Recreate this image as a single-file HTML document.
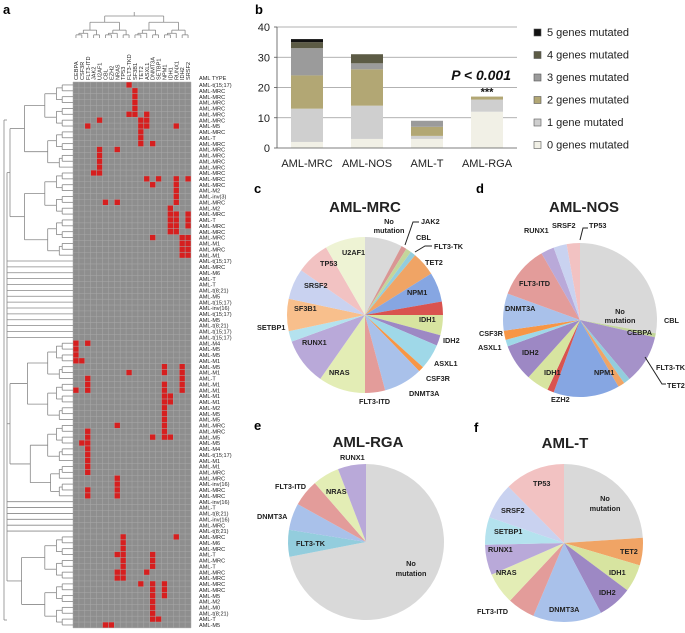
<!DOCTYPE html>
<html><head><meta charset="utf-8">
<style>
html,body{margin:0;padding:0;background:#fff;}
svg{display:block;font-family:"Liberation Sans",sans-serif;}
</style></head>
<body>
<svg id="fig" width="685" height="633" viewBox="0 0 685 633">
  <text x="3" y="14" font-size="13" font-weight="bold">a</text>
  <text x="255" y="14" font-size="13" font-weight="bold">b</text>
  <text x="254" y="193" font-size="13" font-weight="bold">c</text>
  <text x="476" y="193" font-size="13" font-weight="bold">d</text>
  <text x="254" y="430" font-size="13" font-weight="bold">e</text>
  <text x="474" y="432" font-size="13" font-weight="bold">f</text>
  <g id="heat"></g>
  <g id="dendro"></g>
  <g id="bars"></g>
  <g id="pies"></g>
</svg>
<script>
const NS='http://www.w3.org/2000/svg';
// ---------- Heatmap data ----------
const genes=['CEBPA','CSF3R','FLT3-ITD','JAK2','U2AF1','CBL','EZH2','NRAS','TP53','FLT3-TKD','SF3B1','TET2','ASXL1','DNMT3A','SETBP1','NPM1','IDH1','RUNX1','IDH2','SRSF2'];
const rowTypes=['t(15;17)','MRC','MRC','MRC','MRC','MRC','MRC','M5','MRC','T','MRC','MRC','MRC','MRC','MRC','MRC','MRC','MRC','M2','inv(3)','MRC','M2','MRC','T','MRC','MRC','MRC','M1','MRC','M1','t(15;17)','MRC','M6','T','T','t(8;21)','M5','t(15;17)','inv(16)','t(15;17)','M5','t(8;21)','t(15;17)','t(15;17)','M4','M5','M5','M1','M5','M1','T','M1','M1','M1','M1','M2','M5','M5','MRC','MRC','M5','M5','M4','t(15;17)','M1','M1','MRC','MRC','inv(16)','MRC','MRC','inv(16)','T','t(8;21)','inv(16)','MRC','t(8;21)','MRC','M6','MRC','T','MRC','T','MRC','MRC','MRC','MRC','M5','M2','M0','t(8;21)','T','M5'];
const rowMut=[[9],[10],[10],[10],[10],[9,10,12],[4,11,12],[2,11,12,17],[11],[11],[11,13],[4,7],[4],[4],[4],[3,4],[12,14,17,19],[13,17],[17],[17],[5,7,17],[16],[16,17,19],[16,17,19],[16,17,19],[16,17],[13,18,19],[18,19],[18,19],[18,19],
[],[],[],[],[],[],[],[],[],[],[],[],[],[],
[0,2],[0],[0],[0,1],[15,18],[9,15,18],[2,18],[2,15,18],[0,2,15,18],[15,16],[15,16],[15],[15],[15],[7,15],[2,15],[2,13,15,16],[1,2],
[2],[2],[2],[2],[2],[7],[7],[2,7],[2,7],
[],[],[],[],[],[],
[8,17],[8],[8],[7,8,13],[8,13],[8,13],[7,8,12],[7,8],[11,13,15],[13,15],[13,15],[13],[13],[13],[13,14],[5,6]];
const hx0=73,hy0=82,cw=5.9,rh=5.87;
function mk(tag,attrs,parent){const e=document.createElementNS(NS,tag);for(const k in attrs)e.setAttribute(k,attrs[k]);parent.appendChild(e);return e;}
const heat=document.getElementById('heat');
const bg=mk('rect',{x:hx0,y:hy0,width:cw*genes.length,height:rh*rowTypes.length,fill:'#8e8e8e'},heat);


rowMut.forEach((muts,r)=>{muts.forEach(c=>{
  const cell=mk('rect',{x:hx0+c*cw,y:hy0+r*rh,width:cw,height:rh,fill:'#d61f1f'},heat);
  
  
});});
for(let c=0;c<=genes.length;c++){mk('line',{x1:hx0+c*cw,x2:hx0+c*cw,y1:hy0,y2:hy0+rh*rowTypes.length,stroke:'#a9a9a9','stroke-width':0.5},heat);}
for(let r=0;r<=rowTypes.length;r++){mk('line',{x1:hx0,x2:hx0+cw*genes.length,y1:hy0+r*rh,y2:hy0+r*rh,stroke:'#a9a9a9','stroke-width':0.5},heat);}
genes.forEach((g,c)=>{
  const t=mk('text',{x:0,y:0,'font-size':5.6,fill:'#222',transform:`translate(${hx0+c*cw+cw/2+2},80) rotate(-90)`},heat);
  t.textContent=g;
  
  
});
const ht=mk('text',{x:199,y:80,'font-size':5.6,fill:'#222'},heat);ht.textContent='AML TYPE';


rowTypes.forEach((t,r)=>{
  const e=mk('text',{x:199,y:hy0+r*rh+rh-0.8,'font-size':5.6,fill:'#222'},heat);
  e.textContent='AML-'+t;
  
  
});
// ---------- Dendrograms ----------
const dg=document.getElementById('dendro');
function ln(x1,y1,x2,y2,col){mk('line',{x1,y1,x2,y2,stroke:col||'#888','stroke-width':0.8},dg);}
function tree(a,b,xmin,xmax){
  if(a===b){return {y:hy0+a*rh+rh/2,x:hx0};}
  const m=Math.floor((a+b)/2);
  const depth=Math.min(1,(b-a+1)/20);
  const x=xmax-(xmax-xmin)*depth;
  const L=tree(a,m,xmin,xmax),R=tree(m+1,b,xmin,xmax);
  ln(x,L.y,L.x,L.y);ln(x,R.y,R.x,R.y);ln(x,L.y,x,R.y);
  return {y:(L.y+R.y)/2,x};
}
const groups=[[0,29,'t'],[30,43,'f'],[44,70,'t'],[71,76,'f'],[77,92,'t']];
const roots=[];
groups.forEach(g=>{
  if(g[2]==='t'){const n=tree(g[0],g[1],10,68);ln(7,n.y,n.x,n.y);roots.push(n.y);}
  else{for(let r=g[0];r<=g[1];r++){const y=hy0+r*rh+rh/2;ln(7,y,hx0,y);roots.push(y);}}
});
ln(7,Math.min(...roots),7,Math.max(...roots));
ln(4,120,7,120);ln(4,120,4,620);ln(4,620,7,620);
function ttree(a,b){
  if(a===b){return {x:hx0+a*cw+cw/2,y:38};}
  const m=Math.floor((a+b)/2);
  const y=38-22*Math.min(1,(b-a+1)/14);
  const L=ttree(a,m),R=ttree(m+1,b);
  ln(L.x,y,L.x,L.y);ln(R.x,y,R.x,R.y);ln(L.x,y,R.x,y);
  return {x:(L.x+R.x)/2,y};
}
const tr=ttree(0,genes.length-1);ln(tr.x,tr.y,tr.x,12);
// ---------- Bar chart ----------
const cats=['AML-MRC','AML-NOS','AML-T','AML-RGA'];
const g0=[2,3,3,12];
const g1=[11,11,1,4];
const g2=[11,12,3,1];
const g3=[9,2,2,0];
const g4=[2,3,0,0];
const g5=[1,0,0,0];
const yTicks=[0,10,20,30,40];
const seriesNames=['0 genes mutated','1 gene mutated','2 genes mutated','3 genes mutated','4 genes mutated','5 genes mutated'];
const seriesCols=['#f1f0e6','#cfcfcf','#b2a774','#9b9b9b','#5c5b45','#111111'];
const series=[g0,g1,g2,g3,g4,g5];
const bars=document.getElementById('bars');
const ax0=277,ax1=517,yb=148,yt=27,yMax=40;
const yS=v=>yb-(v/yMax)*(yb-yt);
const band=(ax1-ax0)/cats.length;
const xS=i=>ax0+band*i+band/2;
yTicks.forEach(t=>{
  if(t>0){const gl=mk('line',{x1:ax0,x2:ax1,y1:yS(t),y2:yS(t),stroke:'#999','stroke-width':0.8},bars);
  
  }
  const tl=mk('text',{x:270,y:yS(t)+4,'font-size':11,'text-anchor':'end',fill:'#222'},bars);tl.textContent=t;
  
  
  mk('line',{x1:ax0-3,x2:ax0,y1:yS(t),y2:yS(t),stroke:'#555','stroke-width':0.8},bars);
});
cats.forEach((c,i)=>{
  let acc=0;
  series.forEach((s,k)=>{
    if(s[i]>0){const r=mk('rect',{x:xS(i)-16,y:yS(acc+s[i]),width:32,height:yS(acc)-yS(acc+s[i]),fill:seriesCols[k]},bars);
    
    }
    acc+=s[i];
  });
  const cl=mk('text',{x:xS(i),y:167,'font-size':11,'text-anchor':'middle',fill:'#222'},bars);cl.textContent=c;
  
  
});
mk('line',{x1:ax0,x2:ax0,y1:yt,y2:yb,stroke:'#555','stroke-width':0.8},bars);
mk('line',{x1:ax0,x2:ax1,y1:yb,y2:yb,stroke:'#555','stroke-width':0.8},bars);
const pv=mk('text',{x:511,y:80,'font-size':14,'font-weight':'bold','font-style':'italic','text-anchor':'end',fill:'#111'},bars);pv.textContent='P < 0.001';


const st=mk('text',{x:xS(3),y:yS(17)-1,'font-size':11,'font-weight':'bold','text-anchor':'middle',fill:'#111'},bars);st.textContent='***';


for(let k=5;k>=0;k--){
  const y=33+(5-k)*22.5;
  const sq=mk('rect',{x:534,y:y-4,width:7,height:7,fill:seriesCols[k],stroke:'#555','stroke-width':0.6},bars);
  
  
  const lt=mk('text',{x:547,y:y+3,'font-size':11,fill:'#222'},bars);lt.textContent=seriesNames[k];
  
  
}
// ---------- Pies ----------
const C={NO:'#d9d9d9',JAK2:'#d99694',CBL:'#c3d69b',TK:'#93cddd',TET2:'#f0a465',NPM1:'#86a6e2',EZH2:'#d9534f',IDH1:'#d7e4a0',IDH2:'#9d88c4',ASXL1:'#9fd8e8',CSF3R:'#f79646',DNMT3A:'#a9c1ea',ITD:'#e39c9a',NRAS:'#e3edb5',RUNX1:'#b9a9d9',SETBP1:'#b4e2ee',SF3B1:'#f8bf8c',SRSF2:'#c9d2f0',TP53:'#f2c2c2',U2AF1:'#eef3d4',CEBPA:'#a592c9'};
const mrcKeys=['NO','JAK2','CBL','TK','TET2','NPM1','EZH2','IDH1','IDH2','ASXL1','CSF3R','DNMT3A','ITD','NRAS','RUNX1','SETBP1','SF3B1','SRSF2','TP53','U2AF1'];
const mrcVals=[28,4,4,4,18,22,10,15,8,19,4,29,15,35,35,8,24,23,25,30];
const nosKeys=['NO','CBL','CEBPA','TK','TET2','NPM1','EZH2','IDH1','IDH2','ASXL1','CSF3R','DNMT3A','ITD','RUNX1','SRSF2','TP53'];
const nosVals=[100,3,37,5,5,50,5,17,28,5,7,28,40,10,10,10];
const rgaKeys=['NO','TK','DNMT3A','ITD','NRAS','RUNX1'];
const rgaVals=[259,20,20,20,20,21];
const tKeys=['NO','TET2','IDH1','IDH2','DNMT3A','ITD','NRAS','RUNX1','SETBP1','SRSF2','TP53'];
const tVals=[85,20,20,25,50,20,23,22,20,26,44];
const pies=document.getElementById('pies');
function pie(keys,vals,cx,cy,r,name){
  const g=mk('g',{},pies);
  
  
  const tot=vals.reduce((a,b)=>a+b,0);let a=0;
  vals.forEach((v,i)=>{
    const a0=a/tot*2*Math.PI,a1=(a+v)/tot*2*Math.PI;a+=v;
    const x0=cx+r*Math.sin(a0),y0=cy-r*Math.cos(a0),x1=cx+r*Math.sin(a1),y1=cy-r*Math.cos(a1);
    const p=mk('path',{d:`M${cx},${cy}L${x0},${y0}A${r},${r} 0 ${a1-a0>Math.PI?1:0} 1 ${x1},${y1}Z`,fill:C[keys[i]]},g);
    
    
  });
}
pie(mrcKeys,mrcVals,365,315,78,'pie-aml-mrc');
pie(nosKeys,nosVals,580,320,77,'pie-aml-nos');
pie(rgaKeys,rgaVals,366,542,78,'pie-aml-rga');
pie(tKeys,tVals,564,543,79,'pie-aml-t');
</script>
<svg width="685" height="633" style="position:absolute;left:0;top:0">
<g font-family="Liberation Sans, sans-serif" fill="#222">
<text x="365" y="212" font-size="15" font-weight="bold" text-anchor="middle">AML-MRC</text>
<text x="584" y="212" font-size="15" font-weight="bold" text-anchor="middle">AML-NOS</text>
<text x="368" y="447" font-size="15" font-weight="bold" text-anchor="middle">AML-RGA</text>
<text x="565" y="448" font-size="15" font-weight="bold" text-anchor="middle">AML-T</text>
<g font-size="7.3" font-weight="bold">
<text x="389" y="224" text-anchor="middle">No</text><text x="389" y="233" text-anchor="middle">mutation</text>
<text x="421" y="224">JAK2</text><text x="416" y="240">CBL</text><text x="434" y="249">FLT3-TK</text>
<text x="425" y="265">TET2</text><text x="407" y="295">NPM1</text><text x="419" y="322">IDH1</text>
<text x="443" y="343">IDH2</text><text x="434" y="366">ASXL1</text><text x="426" y="381">CSF3R</text>
<text x="409" y="396">DNMT3A</text><text x="359" y="404">FLT3-ITD</text><text x="329" y="375">NRAS</text>
<text x="302" y="345">RUNX1</text><text x="257" y="330">SETBP1</text><text x="294" y="311">SF3B1</text>
<text x="304" y="288">SRSF2</text><text x="320" y="266">TP53</text><text x="342" y="255">U2AF1</text>
</g>
<path d="M405,245 L413,222 L419,222 M415,252 L425,246 L432,246" stroke="#222" stroke-width="1" fill="none"/>
<g font-size="7.3" font-weight="bold">
<text x="620" y="314" text-anchor="middle">No</text><text x="620" y="323" text-anchor="middle">mutation</text>
<text x="664" y="323">CBL</text><text x="627" y="335">CEBPA</text><text x="656" y="370">FLT3-TK</text>
<text x="667" y="388">TET2</text><text x="594" y="375">NPM1</text><text x="544" y="375">IDH1</text>
<text x="522" y="355">IDH2</text><text x="478" y="350">ASXL1</text><text x="479" y="336">CSF3R</text>
<text x="505" y="311">DNMT3A</text><text x="519" y="286">FLT3-ITD</text><text x="524" y="233">RUNX1</text>
<text x="552" y="228">SRSF2</text><text x="589" y="228">TP53</text><text x="551" y="402">EZH2</text>
</g>
<path d="M580,240 L583,228 L588,228 M645,357 L662,384 L666,384" stroke="#222" stroke-width="1" fill="none"/>
<g font-size="7.3" font-weight="bold">
<text x="340" y="460">RUNX1</text><text x="275" y="489">FLT3-ITD</text><text x="326" y="494">NRAS</text>
<text x="257" y="519">DNMT3A</text><text x="296" y="546">FLT3-TK</text>
<text x="411" y="566" text-anchor="middle">No</text><text x="411" y="576" text-anchor="middle">mutation</text>
</g>
<g font-size="7.3" font-weight="bold">
<text x="533" y="486">TP53</text><text x="605" y="501" text-anchor="middle">No</text><text x="605" y="511" text-anchor="middle">mutation</text>
<text x="501" y="513">SRSF2</text><text x="494" y="534">SETBP1</text><text x="488" y="552">RUNX1</text>
<text x="620" y="554">TET2</text><text x="609" y="575">IDH1</text><text x="496" y="575">NRAS</text>
<text x="599" y="595">IDH2</text><text x="477" y="614">FLT3-ITD</text><text x="549" y="612">DNMT3A</text>
</g>
</g>
</svg>
</body></html>
